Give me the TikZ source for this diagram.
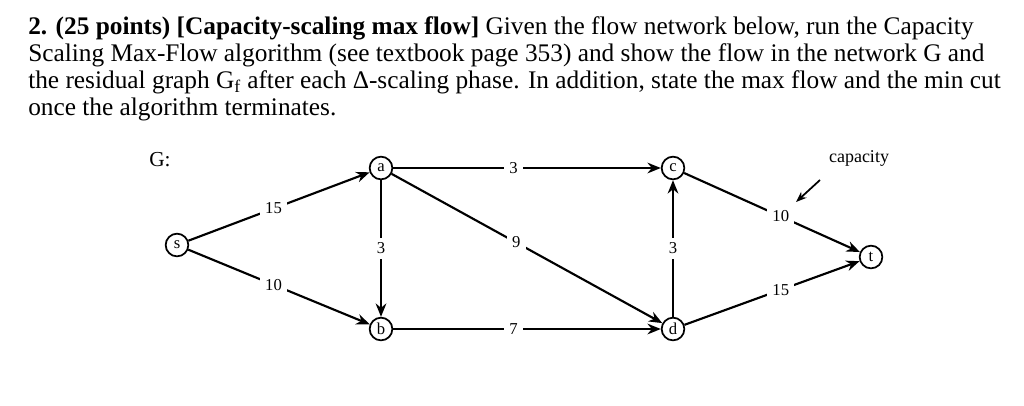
\documentclass[tikz,border=0pt]{standalone}
\usepackage{fontspec}
\setmainfont{Liberation Serif}
\usetikzlibrary{arrows.meta}
\begin{document}
\begin{tikzpicture}[x=0.75pt,y=-0.75pt,
  vert/.style={circle,draw,line width=1.3pt,minimum size=17pt,inner sep=0pt,font=\fontsize{12.5}{12.5}\selectfont},
  edge/.style={line width=1.6pt,-{Stealth[length=10pt,width=8pt]}},
  lbl/.style={fill=white,inner sep=4pt,font=\fontsize{12.5}{12.5}\selectfont}]
\useasboundingbox (0,0) rectangle (1024,405);
\node[anchor=north west,align=left,inner sep=0pt,font=\fontsize{19}{20.3}\selectfont] (title) at (28,16)
{\textbf{2. (25 points) [Capacity-scaling max flow]} Given the flow network below, run the Capacity\\
Scaling Max-Flow algorithm (see textbook page 353) and show the flow in the network G and\\
the residual graph G\textsubscript{f} after each Δ-scaling phase. In addition, state the max flow and the min cut\\
once the algorithm terminates.};
\node[font=\fontsize{16}{16}\selectfont] (G) at (160,160) {G:};
\node[vert] (s) at (177,245) {s};
\node[vert] (a) at (381,168) {a};
\node[vert] (b) at (381,329) {b};
\node[vert] (c) at (673,168) {c};
\node[vert] (d) at (673,329) {d};
\node[vert] (t) at (871,257) {t};
\draw[edge] (s) -- node[lbl,pos=0.47]{15} (a);
\draw[edge] (s) -- node[lbl,pos=0.47]{10} (b);
\draw[edge] (a) -- node[lbl,pos=0.45]{3} (c);
\draw[edge] (a) -- node[lbl,pos=0.5]{3} (b);
\draw[edge] (a) -- node[lbl,pos=0.46]{9} (d);
\draw[edge] (b) -- node[lbl,pos=0.45]{7} (d);
\draw[edge] (d) -- node[lbl,pos=0.5]{3} (c);
\draw[edge] (c) -- node[lbl,pos=0.55]{10} (t);
\draw[edge] (d) -- node[lbl,pos=0.55]{15} (t);
\node[font=\fontsize{13.5}{13.5}\selectfont] (cap) at (859,158) {capacity};
\coordinate (capend) at (796,202);
\draw[line width=1.3pt,-{Stealth[length=8pt,width=6pt]}] (820,180) -- (capend);
\end{tikzpicture}
\end{document}
